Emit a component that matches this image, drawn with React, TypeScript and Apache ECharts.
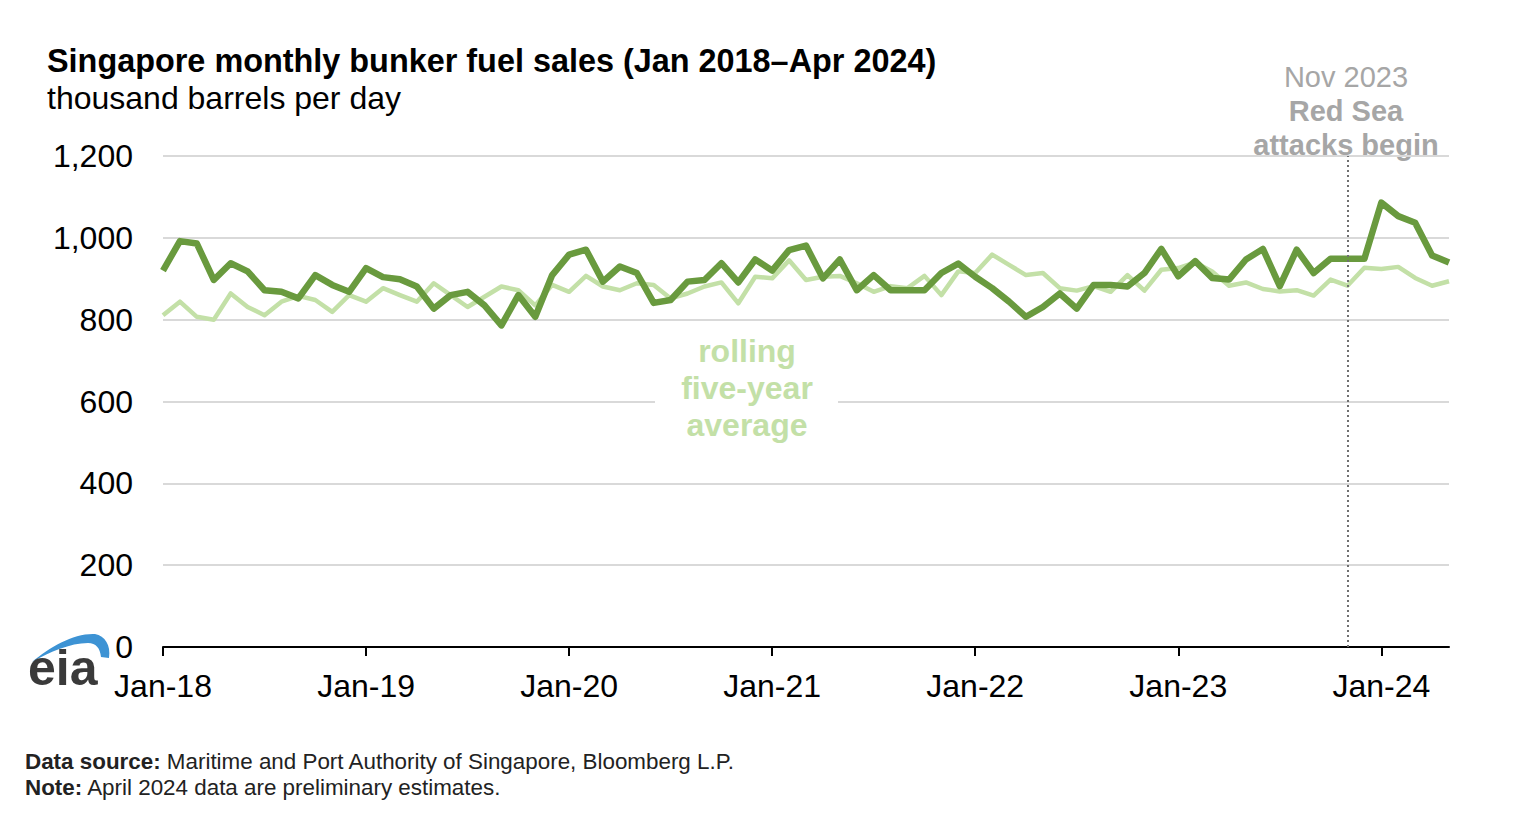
import React, { useEffect, useRef } from "react";
import * as echarts from "echarts";

// Monthly bunker fuel sales, thousand barrels per day
const MONTH_NAMES = ["Jan", "Feb", "Mar", "Apr", "May", "Jun", "Jul", "Aug", "Sep", "Oct", "Nov", "Dec"];
const START_YEAR = 2018;
const MONTH_COUNT = 77;
const months: string[] = [];
for (let i = 0; i < MONTH_COUNT; i++) {
  const y = START_YEAR + Math.floor(i / 12);
  months.push(`${MONTH_NAMES[i % 12]}-${String(y).slice(2)}`);
}

const monthlySales = [
  920, 992, 986, 897, 938, 918, 872, 868, 852, 909, 885, 868,
  926, 904, 899, 881, 827, 860, 868, 835, 786, 860, 807, 909,
  959, 971, 893, 930, 914, 841, 848, 893, 897, 938, 891, 947,
  920, 970, 981, 901, 947, 872, 909, 872, 872, 872, 914, 937,
  905, 877, 844, 807, 831, 864, 827, 885, 885, 881, 914, 973,
  906, 943, 902, 898, 947, 973, 882, 971, 914, 949, 949, 949,
  1086, 1053, 1037, 957, 940,
];

const fiveYearAverage = [
  811, 844, 807, 800, 864, 831, 811, 844, 858, 848, 819, 860,
  844, 877, 860, 844, 889, 860, 831, 856, 881, 872, 835, 885,
  868, 907, 881, 872, 889, 885, 852, 864, 881, 891, 840, 905,
  901, 945, 897, 905, 907, 889, 868, 882, 877, 907, 860, 918,
  914, 959, 934, 909, 914, 877, 871, 882, 868, 909, 871, 922,
  926, 940, 918, 883, 891, 875, 869, 872, 859, 898, 883, 927,
  924, 929, 902, 883, 894,
];

const yTicks = [0, 200, 400, 600, 800, 1000, 1200];
const eventMonth = "Nov-23";

const FONT = "'Liberation Sans', Arial, Helvetica, sans-serif";
const DARK_GREEN = "#699a3e";
const LIGHT_GREEN = "#c3e0a7";
const NOTE_GRAY = "#a6a6a6";

// EIA swoosh above the wordmark
echarts.graphic.registerShape(
  "eiaSwoosh",
  echarts.graphic.extendPath(
    "M32 662 C 50 647, 74 633, 95 634 C 105 636, 111 645, 109 658 L 101 657 C 100 648, 96 643, 88 643 C 70 643, 50 652, 32 662 Z",
    {}
  )
);

export default function App() {
  const ref = useRef<HTMLDivElement>(null);

  useEffect(() => {
    if (!ref.current) return;
    const chart = echarts.init(ref.current, null, { renderer: "svg" });

    const everyYear = (idx: number) => idx % 12 === 0;

    chart.setOption({
      animation: false,
      backgroundColor: "#ffffff",
      textStyle: { fontFamily: FONT },
      grid: { left: 163, right: 87, top: 156, bottom: 176, containLabel: false },
      xAxis: {
        type: "category",
        data: months,
        boundaryGap: false,
        axisLine: { show: true, lineStyle: { color: "#000000", width: 2 } },
        axisTick: { show: true, interval: everyYear, length: 9, lineStyle: { color: "#000000", width: 2 } },
        axisLabel: {
          interval: everyYear,
          fontSize: 32,
          color: "#000000",
          fontFamily: FONT,
          margin: 23,
        },
        splitLine: { show: false },
      },
      yAxis: {
        type: "value",
        min: yTicks[0],
        max: yTicks[yTicks.length - 1],
        interval: 200,
        axisLine: { show: false },
        axisTick: { show: false },
        axisLabel: {
          fontSize: 32,
          color: "#000000",
          fontFamily: FONT,
          margin: 30,
          formatter: (v: number) => v.toLocaleString("en-US"),
        },
        splitLine: { show: true, lineStyle: { color: "#d9d9d9", width: 2 } },
      },
      series: [
        {
          name: "rolling five-year average",
          type: "line",
          data: fiveYearAverage,
          symbol: "none",
          lineStyle: { color: LIGHT_GREEN, width: 4.5, join: "round" },
          z: 2,
        },
        {
          name: "monthly sales",
          type: "line",
          data: monthlySales,
          symbol: "none",
          lineStyle: { color: DARK_GREEN, width: 6.5, join: "round" },
          z: 3,
          markLine: {
            silent: true,
            symbol: "none",
            label: { show: false },
            lineStyle: { color: "#6f6f6f", type: [2, 3], width: 2 },
            data: [{ xAxis: eventMonth }],
          },
        },
      ],
      graphic: [
        {
          type: "text",
          left: 47,
          top: 45,
          style: {
            text: "Singapore monthly bunker fuel sales (Jan 2018\u2013Apr 2024)",
            font: `bold 32.4px ${FONT}`,
            fill: "#000000",
          },
        },
        {
          type: "text",
          left: 47,
          top: 82,
          style: {
            text: "thousand barrels per day",
            font: `32px ${FONT}`,
            fill: "#000000",
          },
        },
        {
          type: "text",
          x: 1346,
          y: 77,
          style: {
            text: "Nov 2023",
            font: `29px ${FONT}`,
            fill: NOTE_GRAY,
            align: "center",
            verticalAlign: "middle",
          },
        },
        {
          type: "text",
          x: 1346,
          y: 111,
          style: {
            text: "Red Sea",
            font: `bold 29px ${FONT}`,
            fill: NOTE_GRAY,
            align: "center",
            verticalAlign: "middle",
          },
        },
        {
          type: "text",
          x: 1346,
          y: 145,
          style: {
            text: "attacks begin",
            font: `bold 29px ${FONT}`,
            fill: NOTE_GRAY,
            align: "center",
            verticalAlign: "middle",
          },
        },
        {
          type: "rect",
          shape: { x: 655, y: 390, width: 183, height: 22 },
          style: { fill: "#ffffff" },
          z: 1,
        },
        {
          type: "text",
          x: 747,
          y: 351,
          z: 2,
          style: {
            text: "rolling",
            font: `bold 32px ${FONT}`,
            fill: LIGHT_GREEN,
            align: "center",
            verticalAlign: "middle",
          },
        },
        {
          type: "text",
          x: 747,
          y: 388,
          z: 2,
          style: {
            text: "five-year",
            font: `bold 32px ${FONT}`,
            fill: LIGHT_GREEN,
            align: "center",
            verticalAlign: "middle",
          },
        },
        {
          type: "text",
          x: 747,
          y: 425,
          z: 2,
          style: {
            text: "average",
            font: `bold 32px ${FONT}`,
            fill: LIGHT_GREEN,
            align: "center",
            verticalAlign: "middle",
          },
        },
        {
          type: "eiaSwoosh",
          x: 0,
          y: 0,
          style: { fill: "#3d93d4" },
        },
        {
          type: "text",
          x: 28,
          y: 693,
          style: {
            text: "eia",
            font: `bold 50px ${FONT}`,
            fill: "#3a3a3a",
            verticalAlign: "bottom",
          },
        },
        {
          type: "text",
          left: 25,
          top: 750,
          style: {
            rich: {
              b: { font: `bold 22.4px ${FONT}`, fill: "#222222" },
              r: { font: `22.4px ${FONT}`, fill: "#222222" },
            },
            text: "{b|Data source:}{r| Maritime and Port Authority of Singapore, Bloomberg L.P.}",
          },
        },
        {
          type: "text",
          left: 25,
          top: 776,
          style: {
            rich: {
              b: { font: `bold 22.4px ${FONT}`, fill: "#222222" },
              r: { font: `22.4px ${FONT}`, fill: "#222222" },
            },
            text: "{b|Note:}{r| April 2024 data are preliminary estimates.}",
          },
        },
      ],
    });

    return () => chart.dispose();
  }, []);

  return (
    <div
      ref={ref}
      style={{ position: "fixed", left: 0, top: 0, width: 1536, height: 823, background: "#ffffff" }}
    />
  );
}
